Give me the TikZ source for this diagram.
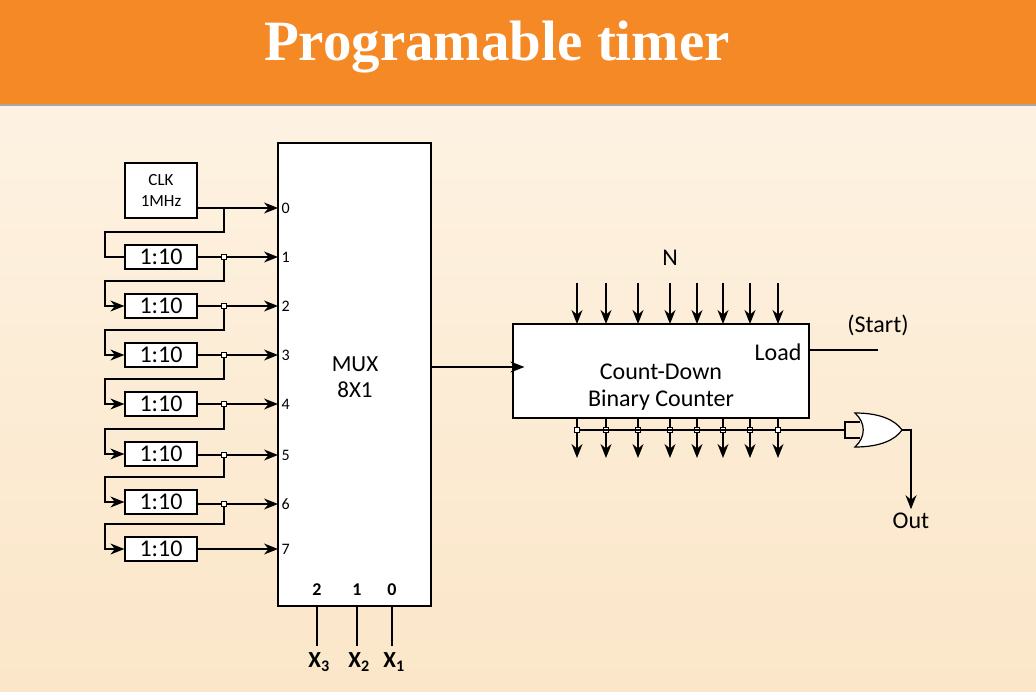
\documentclass[tikz,border=0pt]{standalone}
\usepackage{fontspec}
\setmainfont{Carlito}
\newfontfamily\titlefont{Liberation Serif}
\usetikzlibrary{positioning,arrows.meta}
\definecolor{barorange}{RGB}{245,137,38}
\definecolor{peach}{RGB}{251,230,200}
\definecolor{peachlight}{RGB}{253,242,226}
\tikzset{basic/.style={draw,fill=white,line width=1.2pt},
  divbox/.style={basic,minimum width=72pt,minimum height=24pt,inner sep=0pt,font=\fontsize{24}{26}\selectfont},
  inlabel/.style={right,inner sep=3pt,font=\fontsize{16}{18}\selectfont},
  junc/.style={draw,fill=white,minimum size=5pt,inner sep=0pt,line width=1pt}}
\begin{document}
\begin{tikzpicture}[x=1pt, y=-1pt, >={Stealth[length=14pt,width=11pt]}, line width=1.2pt]
\useasboundingbox (0,0) rectangle (1036,692);
% background and title bar
\shade[top color=peachlight, bottom color=peach] (0,105) rectangle (1036,692);
\fill[barorange] (0,0) rectangle (1036,105);
\draw[gray!70,line width=1.5pt] (0,105) -- (1036,105);
\node[text=white,font=\titlefont\bfseries\fontsize{57}{60}\selectfont] (title) at (497,47) {Programable timer};

% clock and dividers
\node[basic,minimum width=72pt,minimum height=55pt,align=center,font=\fontsize{17}{21}\selectfont] (clk) at (161,190.5) {CLK\\1MHz};
\foreach \y [count=\i] in {257,306,355,404,454,502,549}
\node[divbox] (div-\i) at (161,\y) {1:10};

% multiplexer
\node[basic,minimum width=153pt,minimum height=463pt,inner sep=0pt] (mux) at (354.5,374.5) {};
\node[align=center,font=\fontsize{23}{26}\selectfont] (muxtext) at (355,377) {MUX\\8X1};
\foreach \y [count=\i from 0] in {208,257,306,355,404,455,504,549}
{\coordinate (in-\i) at (278,\y);
 \node[inlabel] (inl-\i) at (in-\i) {\i};}

\draw[->] (clk.east |- in-0) -- (in-0);
\foreach \i in {1,...,7}
\draw[->] (div-\i.east |- in-\i) -- (in-\i);
\foreach \i in {1,...,6}
\node[junc] (j-\i) at (224,0 |- in-\i) {};

% feedback loops
\coordinate (j-0) at (224,208);
\draw (j-0) -- (224,232) -- (105,232) |- (div-1.west);
\foreach \i [evaluate=\i as \n using int(\i+1)] in {1,...,6}
\draw[->] (j-\i) |- ([yshift=25pt]div-\n.center) -| (105,0 |- div-\n) -- (div-\n.west);

% select lines
\foreach \x/\s/\l in {317/2/3,357/1/2,392/0/1}
{\node[font=\bfseries\fontsize{18}{20}\selectfont] (sel-\s) at (\x,590) {\s};
 \coordinate (sb-\s) at (\x,606);
 \node[font=\bfseries\fontsize{23}{25}\selectfont] (x-\s) at (\x+2,662) {X\textsubscript{\l}};
 \draw (sb-\s) -- (\x,646);}

% counter
\node[basic,minimum width=296pt,minimum height=94pt,inner sep=0pt] (cnt) at (661,371) {};
\node[align=center,font=\fontsize{24}{27}\selectfont] (cnttext) at (661,387) {Count-Down\\Binary Counter};
\node[font=\fontsize{24}{26}\selectfont] (load) at (778,352) {Load};
\node[font=\fontsize{24}{26}\selectfont] (start) at (878,325) {(Start)};
\coordinate (startend) at (878,350);
\draw (cnt.east |- startend) -- (startend);
\draw[->] (mux.east |- 0,367) -- ([xshift=12pt]cnt.west |- 0,367);

\node[font=\fontsize{24}{26}\selectfont] (nlab) at (670,258) {N};
\foreach \x [count=\i] in {577,606,638,670,697,723,750,778}
{\draw[->] (\x,283) -- (\x,324);
 \draw[->] (\x,418) -- (\x,458);
 \node[junc] (q-\i) at (\x,430) {};}

% or gate
\draw[fill=white] (855,413) .. controls (880,413) and (895,420) .. (902,430)
  .. controls (895,440) and (880,447) .. (855,447)
  .. controls (866,437) and (866,423) .. (855,413) -- cycle;
\coordinate (or-out) at (902,430);
\draw (860,422) -| (845,438) -- (860,438);
\draw (q-1) -- (q-8) -- (845,430);
\node[font=\fontsize{24}{26}\selectfont] (out) at (911,521) {Out};
\draw[->] (or-out) -- (911,430) -- (out.north);
\end{tikzpicture}
\end{document}
